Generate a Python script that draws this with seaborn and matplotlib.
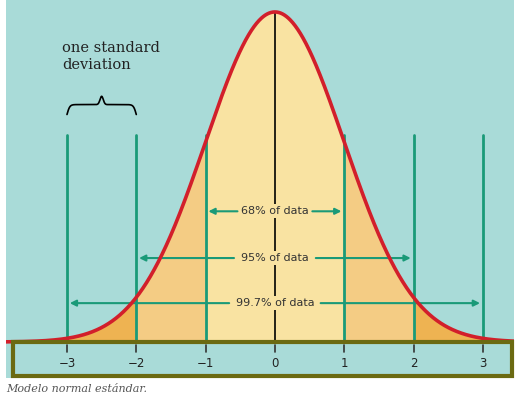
import numpy as np
import matplotlib
matplotlib.use("Agg")
import matplotlib.pyplot as plt
import seaborn as sns
import pandas as pd

sd_ticks = [-3, -2, -1, 0, 1, 2, 3]
tick_labels = ["\u22123", "\u22122", "\u22121", "0", "1", "2", "3"]
arrow_labels = ["68% of data", "95% of data", "99.7% of data"]
arrow_spans = [1, 2, 3]
arrow_heights = [0.158, 0.1015, 0.047]

sns.set_theme(style="white")
plt.rcParams['font.family'] = ['DejaVu Sans']

W, H = 526, 403
fig = plt.figure(figsize=(W/100, H/100), dpi=100)
ax = fig.add_axes([6/W, (H-378)/H, 508/W, 378/H])
bg = "#a9dbd8"
ax.set_facecolor(bg)
x0, x1 = -3.88, 3.45
y0, y1 = -0.0435, 0.4134
ax.set_xlim(x0, x1); ax.set_ylim(y0, y1)

xs = np.linspace(x0, x1, 800)
pdf = np.exp(-xs**2/2)/np.sqrt(2*np.pi)
df = pd.DataFrame({"x": xs, "y": pdf})
cols = {1: "#f9e3a2", 2: "#f4cc84", 3: "#eeb352"}
for k in [3, 2, 1]:
    m = np.abs(xs) <= k
    ax.fill_between(xs[m], 0, pdf[m], color=cols[k], zorder=1)
sns.lineplot(data=df, x="x", y="y", color="#d21f2b", lw=2.6, ax=ax, zorder=5)
ax.set_xlabel(""); ax.set_ylabel("")

green = "#1a9a78"
for t in [-3, -2, -1, 1, 2, 3]:
    ax.plot([t, t], [0, 0.250], color=green, lw=2, zorder=3)
ax.plot([0, 0], [0, 0.3989], color="black", lw=1.2, zorder=3)

for lab, s, h in zip(arrow_labels, arrow_spans, arrow_heights):
    ax.text(0, h, lab, ha="center", va="center", fontsize=8, color="#333",
            bbox=dict(fc=cols[1], ec="none", pad=1.5), zorder=6)
    w = {1: 0.5, 2: 0.55, 3: 0.62}[s]
    for sign in [-1, 1]:
        ax.annotate("", xy=(sign*s, h), xytext=(sign*w, h),
                    arrowprops=dict(arrowstyle="-|>", color=green, lw=1.5,
                                    mutation_scale=9), zorder=4)

ax.text(-3.07, 0.345, "one standard\ndeviation", ha="left", va="center",
        fontsize=10.5, family="DejaVu Serif", color="#222", linespacing=1.3)
bx = np.linspace(-3, -2, 200)
by = 0.275 + 0.012*(np.tanh((bx+3)*25)+np.tanh((-2-bx)*25)) - 0.012
by = by + 0.01*np.exp(-((bx+2.5)*30)**2)
ax.plot(bx, by, color="black", lw=1.2)

ax.add_patch(plt.Rectangle((-3.78, y0+0.002), 7.2, -y0-0.002, fill=False,
                           ec="#6b6a12", lw=3, zorder=7, clip_on=False))
for t, l in zip(sd_ticks, tick_labels):
    ax.plot([t, t], [-0.004, -0.012], color="#333", lw=1.2, zorder=8)
    ax.text(t, -0.026, l, ha="center", va="center", fontsize=8.5, color="#222")

ax.set_xticks([]); ax.set_yticks([])
for s in ax.spines.values():
    s.set_visible(False)

fig.text(6/W, 1-389/H, "Modelo normal est\u00e1ndar.", fontsize=8,
         style="italic", family="DejaVu Serif", color="#555", va="center")
fig.savefig("out.png", dpi=100)
